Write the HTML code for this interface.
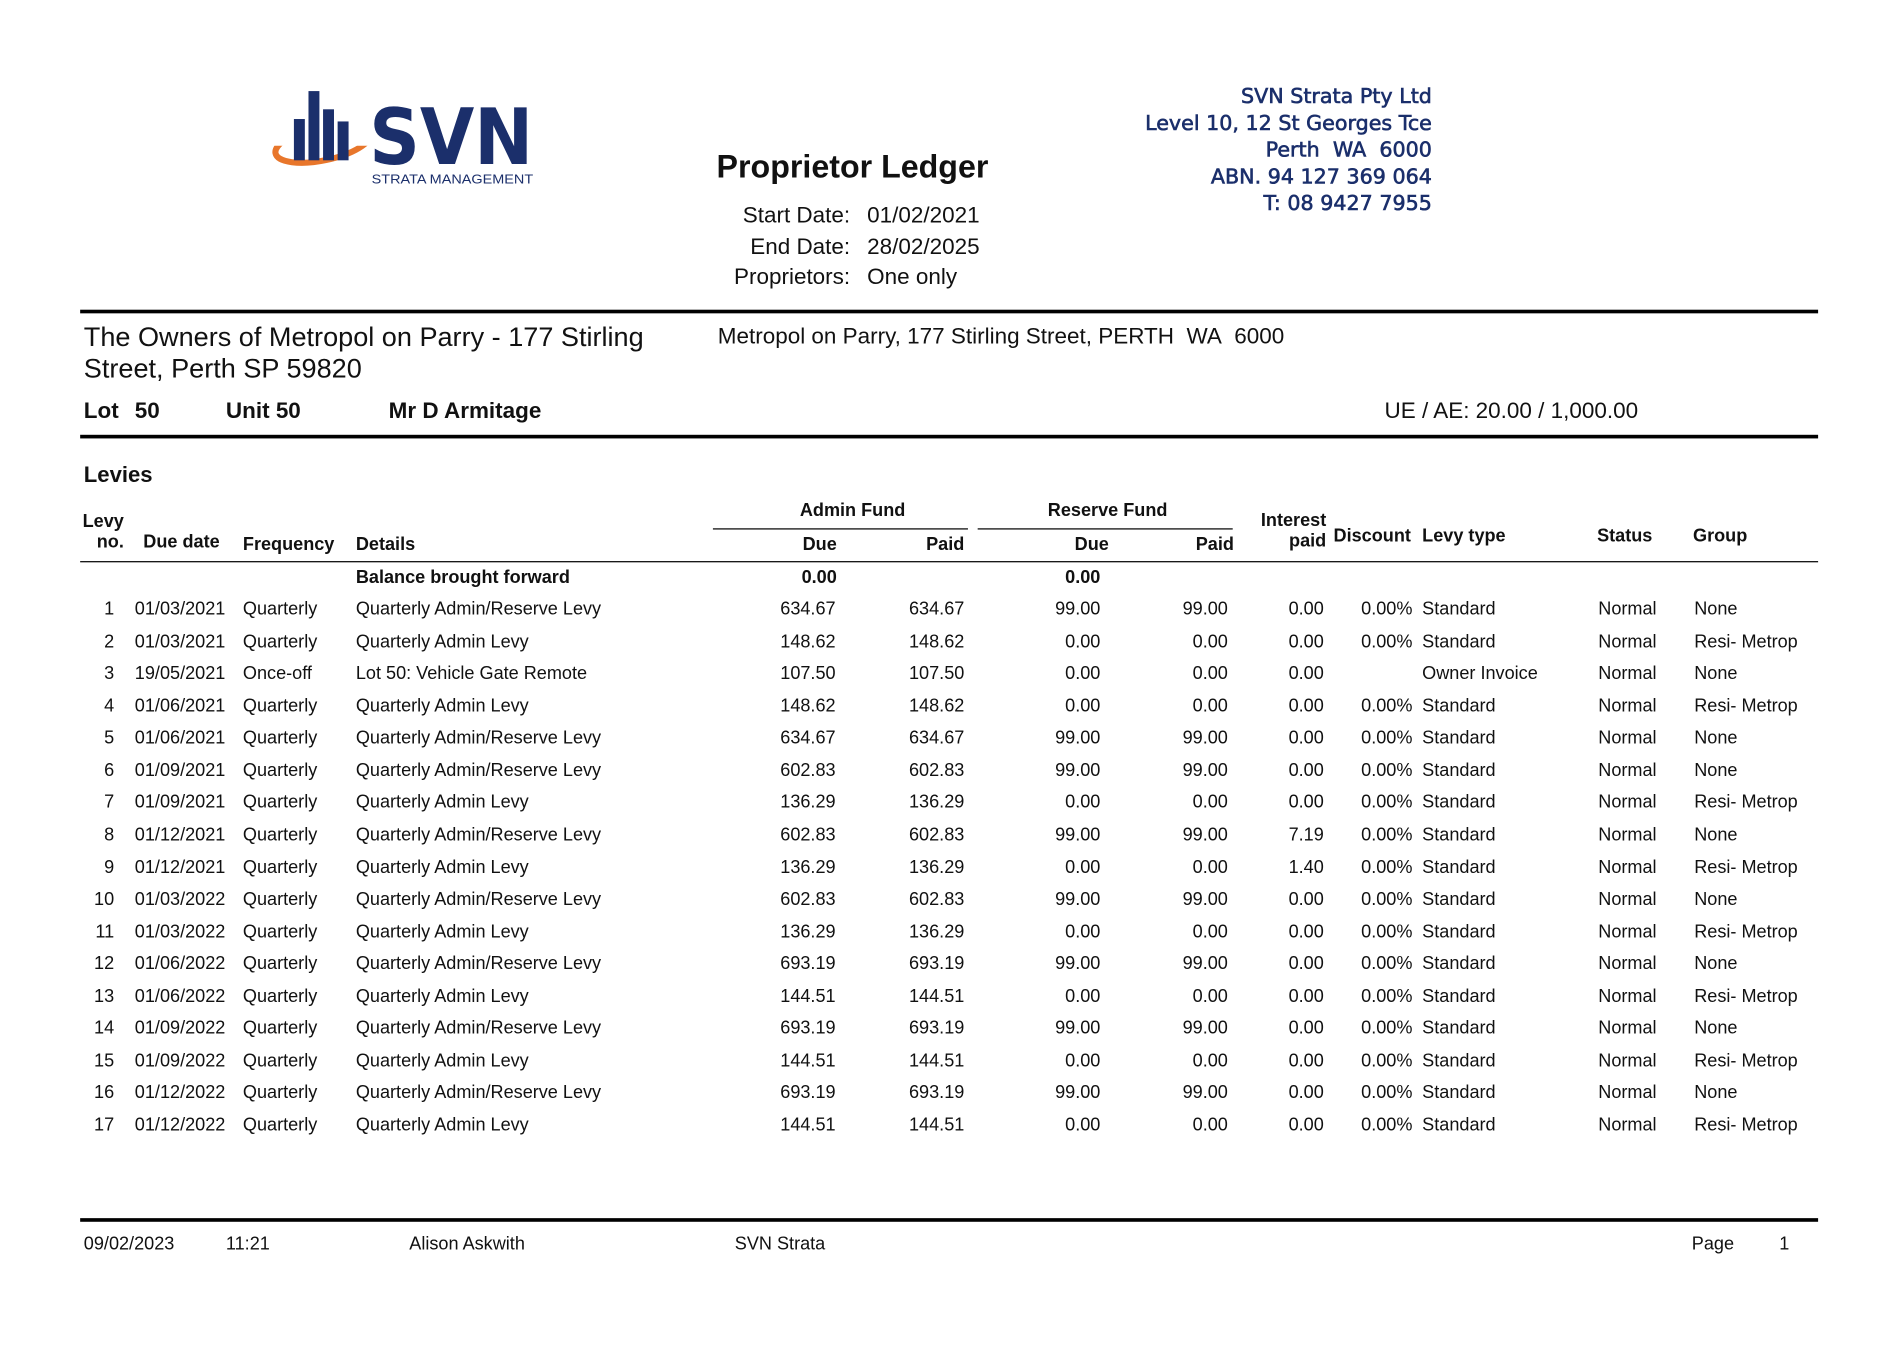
<!DOCTYPE html>
<html><head><meta charset="utf-8"><style>
html,body{margin:0;padding:0;background:#fff;}
body{width:1903px;height:1345px;overflow:hidden;position:relative;}
#pg{position:absolute;left:0;top:0;width:1553px;height:1098px;transform:scale(1.2145);transform-origin:0 0;font-family:"Liberation Sans",Arial,sans-serif;color:#111;}
.a{position:absolute;white-space:nowrap;}
.hl{position:absolute;background:#000;}
.row{position:absolute;left:0;width:1553px;height:18px;font-size:14.9px;line-height:18px;}
.row span{position:absolute;white-space:nowrap;}
.n{right:1459px}.d{left:111px}.f{left:200px}.t{left:293px}
.ad{right:865px}.ap{right:759px}.rd{right:647px}.rp{right:542px}
.ip{right:463px}.dc{right:390px}.lt{left:1171px}.st{left:1316px}.gr{left:1395px}
.b{font-weight:bold}
.h{font-size:14.9px}
.co{position:absolute;right:374px;font-family:"DejaVu Sans",sans-serif;font-weight:normal;-webkit-text-stroke:0.5px #1b2f6b;color:#1b2f6b;font-size:17px;white-space:nowrap;}
</style></head><body><div id="pg">

<svg class="a" style="left:222px;top:70px" width="230" height="90" viewBox="0 0 230 90">
<ellipse cx="44" cy="48" rx="40" ry="14" transform="rotate(-12 44 48)" stroke="#e8762b" stroke-width="5" fill="none"/>
<rect x="0" y="20" width="90" height="30" fill="#fff"/>
<rect x="20" y="28" width="9" height="34" fill="#1b2f6b"/>
<rect x="32" y="5" width="9" height="57" fill="#1b2f6b"/>
<rect x="44" y="20" width="9" height="42" fill="#1b2f6b"/>
<rect x="56" y="30" width="9" height="32" fill="#1b2f6b"/>
<text x="82" y="65" font-family="DejaVu Sans,sans-serif" font-weight="bold" font-size="64" fill="#1b2f6b" textLength="135" lengthAdjust="spacingAndGlyphs">SVN</text>
<text x="84" y="81" font-family="Liberation Sans,sans-serif" font-size="11" fill="#1b2f6b" textLength="133" lengthAdjust="spacingAndGlyphs">STRATA MANAGEMENT</text>
</svg>

<div class="a b" style="left:590px;top:122px;font-size:26.5px">Proprietor Ledger</div>
<div class="a" style="right:853px;top:164px;font-size:18.5px;line-height:25.5px;text-align:right">Start Date:<br>End Date:<br>Proprietors:</div>
<div class="a" style="left:714px;top:164px;font-size:18.5px;line-height:25.5px">01/02/2021<br>28/02/2025<br>One only</div>

<div class="co" style="top:70px">SVN Strata Pty Ltd</div>
<div class="co" style="top:92px">Level 10, 12 St Georges Tce</div>
<div class="co" style="top:114px">Perth&nbsp; WA&nbsp; 6000</div>
<div class="co" style="top:136px">ABN. 94 127 369 064</div>
<div class="co" style="top:158px">T: 08 9427 7955</div>

<div class="hl" style="left:66px;width:1431px;top:255px;height:3px"></div>
<div class="a" style="left:69px;top:265px;font-size:22.3px;line-height:26px">The Owners of Metropol on Parry - 177 Stirling<br>Street, Perth SP 59820</div>
<div class="a" style="left:591px;top:266px;font-size:18.5px">Metropol on Parry, 177 Stirling Street, PERTH&nbsp; WA&nbsp; 6000</div>
<div class="a b" style="left:69px;top:327px;font-size:18.5px">Lot</div>
<div class="a b" style="left:111px;top:327px;font-size:18.5px">50</div>
<div class="a b" style="left:186px;top:327px;font-size:18.5px">Unit 50</div>
<div class="a b" style="left:320px;top:327px;font-size:18.5px">Mr D Armitage</div>
<div class="a" style="left:1140px;top:327px;font-size:18.5px">UE / AE:&nbsp;20.00 / 1,000.00</div>
<div class="hl" style="left:66px;width:1431px;top:358px;height:3px"></div>

<div class="a b" style="left:69px;top:381px;font-size:18.2px">Levies</div>

<div class="a b h" style="left:68px;top:421px;line-height:18px">Levy</div>
<div class="a b h" style="right:1451px;top:439px">no.</div>
<div class="a b h" style="left:118px;top:439px">Due date</div>
<div class="a b h" style="left:200px;top:441px">Frequency</div>
<div class="a b h" style="left:293px;top:441px">Details</div>
<div class="a b h" style="left:597px;width:210px;text-align:center;top:413px">Admin Fund</div>
<div class="hl" style="left:587px;width:210px;top:435px;height:1.3px"></div>
<div class="a b h" style="left:807px;width:210px;text-align:center;top:413px">Reserve Fund</div>
<div class="hl" style="left:805px;width:210px;top:435px;height:1.3px"></div>
<div class="a b h" style="right:864px;top:441px">Due</div>
<div class="a b h" style="right:759px;top:441px">Paid</div>
<div class="a b h" style="right:640px;top:441px">Due</div>
<div class="a b h" style="right:537px;top:441px">Paid</div>
<div class="a b h" style="right:461px;top:421px;text-align:right;line-height:17px">Interest<br>paid</div>
<div class="a b h" style="left:1098px;top:434px">Discount</div>
<div class="a b h" style="left:1171px;top:434px">Levy type</div>
<div class="a b h" style="left:1315px;top:434px">Status</div>
<div class="a b h" style="left:1394px;top:434px">Group</div>
<div class="hl" style="left:66px;width:1431px;top:462px;height:1.3px"></div>

<div class="row b" style="top:467px"><span class="t">Balance brought forward</span><span class="ad" style="right:864px">0.00</span><span class="rd" style="right:647px">0.00</span></div>

<div class="row" style="top:493px"><span class="n">1</span><span class="d">01/03/2021</span><span class="f">Quarterly</span><span class="t">Quarterly Admin/Reserve Levy</span><span class="ad">634.67</span><span class="ap">634.67</span><span class="rd">99.00</span><span class="rp">99.00</span><span class="ip">0.00</span><span class="dc">0.00%</span><span class="lt">Standard</span><span class="st">Normal</span><span class="gr">None</span></div>
<div class="row" style="top:519.6px"><span class="n">2</span><span class="d">01/03/2021</span><span class="f">Quarterly</span><span class="t">Quarterly Admin Levy</span><span class="ad">148.62</span><span class="ap">148.62</span><span class="rd">0.00</span><span class="rp">0.00</span><span class="ip">0.00</span><span class="dc">0.00%</span><span class="lt">Standard</span><span class="st">Normal</span><span class="gr">Resi- Metrop</span></div>
<div class="row" style="top:546.1px"><span class="n">3</span><span class="d">19/05/2021</span><span class="f">Once-off</span><span class="t">Lot 50: Vehicle Gate Remote</span><span class="ad">107.50</span><span class="ap">107.50</span><span class="rd">0.00</span><span class="rp">0.00</span><span class="ip">0.00</span><span class="lt">Owner Invoice</span><span class="st">Normal</span><span class="gr">None</span></div>
<div class="row" style="top:572.7px"><span class="n">4</span><span class="d">01/06/2021</span><span class="f">Quarterly</span><span class="t">Quarterly Admin Levy</span><span class="ad">148.62</span><span class="ap">148.62</span><span class="rd">0.00</span><span class="rp">0.00</span><span class="ip">0.00</span><span class="dc">0.00%</span><span class="lt">Standard</span><span class="st">Normal</span><span class="gr">Resi- Metrop</span></div>
<div class="row" style="top:599.2px"><span class="n">5</span><span class="d">01/06/2021</span><span class="f">Quarterly</span><span class="t">Quarterly Admin/Reserve Levy</span><span class="ad">634.67</span><span class="ap">634.67</span><span class="rd">99.00</span><span class="rp">99.00</span><span class="ip">0.00</span><span class="dc">0.00%</span><span class="lt">Standard</span><span class="st">Normal</span><span class="gr">None</span></div>
<div class="row" style="top:625.8px"><span class="n">6</span><span class="d">01/09/2021</span><span class="f">Quarterly</span><span class="t">Quarterly Admin/Reserve Levy</span><span class="ad">602.83</span><span class="ap">602.83</span><span class="rd">99.00</span><span class="rp">99.00</span><span class="ip">0.00</span><span class="dc">0.00%</span><span class="lt">Standard</span><span class="st">Normal</span><span class="gr">None</span></div>
<div class="row" style="top:652.4px"><span class="n">7</span><span class="d">01/09/2021</span><span class="f">Quarterly</span><span class="t">Quarterly Admin Levy</span><span class="ad">136.29</span><span class="ap">136.29</span><span class="rd">0.00</span><span class="rp">0.00</span><span class="ip">0.00</span><span class="dc">0.00%</span><span class="lt">Standard</span><span class="st">Normal</span><span class="gr">Resi- Metrop</span></div>
<div class="row" style="top:678.9px"><span class="n">8</span><span class="d">01/12/2021</span><span class="f">Quarterly</span><span class="t">Quarterly Admin/Reserve Levy</span><span class="ad">602.83</span><span class="ap">602.83</span><span class="rd">99.00</span><span class="rp">99.00</span><span class="ip">7.19</span><span class="dc">0.00%</span><span class="lt">Standard</span><span class="st">Normal</span><span class="gr">None</span></div>
<div class="row" style="top:705.5px"><span class="n">9</span><span class="d">01/12/2021</span><span class="f">Quarterly</span><span class="t">Quarterly Admin Levy</span><span class="ad">136.29</span><span class="ap">136.29</span><span class="rd">0.00</span><span class="rp">0.00</span><span class="ip">1.40</span><span class="dc">0.00%</span><span class="lt">Standard</span><span class="st">Normal</span><span class="gr">Resi- Metrop</span></div>
<div class="row" style="top:732px"><span class="n">10</span><span class="d">01/03/2022</span><span class="f">Quarterly</span><span class="t">Quarterly Admin/Reserve Levy</span><span class="ad">602.83</span><span class="ap">602.83</span><span class="rd">99.00</span><span class="rp">99.00</span><span class="ip">0.00</span><span class="dc">0.00%</span><span class="lt">Standard</span><span class="st">Normal</span><span class="gr">None</span></div>
<div class="row" style="top:758.6px"><span class="n">11</span><span class="d">01/03/2022</span><span class="f">Quarterly</span><span class="t">Quarterly Admin Levy</span><span class="ad">136.29</span><span class="ap">136.29</span><span class="rd">0.00</span><span class="rp">0.00</span><span class="ip">0.00</span><span class="dc">0.00%</span><span class="lt">Standard</span><span class="st">Normal</span><span class="gr">Resi- Metrop</span></div>
<div class="row" style="top:785.2px"><span class="n">12</span><span class="d">01/06/2022</span><span class="f">Quarterly</span><span class="t">Quarterly Admin/Reserve Levy</span><span class="ad">693.19</span><span class="ap">693.19</span><span class="rd">99.00</span><span class="rp">99.00</span><span class="ip">0.00</span><span class="dc">0.00%</span><span class="lt">Standard</span><span class="st">Normal</span><span class="gr">None</span></div>
<div class="row" style="top:811.7px"><span class="n">13</span><span class="d">01/06/2022</span><span class="f">Quarterly</span><span class="t">Quarterly Admin Levy</span><span class="ad">144.51</span><span class="ap">144.51</span><span class="rd">0.00</span><span class="rp">0.00</span><span class="ip">0.00</span><span class="dc">0.00%</span><span class="lt">Standard</span><span class="st">Normal</span><span class="gr">Resi- Metrop</span></div>
<div class="row" style="top:838.3px"><span class="n">14</span><span class="d">01/09/2022</span><span class="f">Quarterly</span><span class="t">Quarterly Admin/Reserve Levy</span><span class="ad">693.19</span><span class="ap">693.19</span><span class="rd">99.00</span><span class="rp">99.00</span><span class="ip">0.00</span><span class="dc">0.00%</span><span class="lt">Standard</span><span class="st">Normal</span><span class="gr">None</span></div>
<div class="row" style="top:864.8px"><span class="n">15</span><span class="d">01/09/2022</span><span class="f">Quarterly</span><span class="t">Quarterly Admin Levy</span><span class="ad">144.51</span><span class="ap">144.51</span><span class="rd">0.00</span><span class="rp">0.00</span><span class="ip">0.00</span><span class="dc">0.00%</span><span class="lt">Standard</span><span class="st">Normal</span><span class="gr">Resi- Metrop</span></div>
<div class="row" style="top:891.4px"><span class="n">16</span><span class="d">01/12/2022</span><span class="f">Quarterly</span><span class="t">Quarterly Admin/Reserve Levy</span><span class="ad">693.19</span><span class="ap">693.19</span><span class="rd">99.00</span><span class="rp">99.00</span><span class="ip">0.00</span><span class="dc">0.00%</span><span class="lt">Standard</span><span class="st">Normal</span><span class="gr">None</span></div>
<div class="row" style="top:918px"><span class="n">17</span><span class="d">01/12/2022</span><span class="f">Quarterly</span><span class="t">Quarterly Admin Levy</span><span class="ad">144.51</span><span class="ap">144.51</span><span class="rd">0.00</span><span class="rp">0.00</span><span class="ip">0.00</span><span class="dc">0.00%</span><span class="lt">Standard</span><span class="st">Normal</span><span class="gr">Resi- Metrop</span></div>

<div class="hl" style="left:66px;width:1431px;top:1003px;height:3px"></div>
<div class="row" style="top:1016px"><span style="left:69px">09/02/2023</span><span style="left:186px">11:21</span><span style="left:337px">Alison Askwith</span><span style="left:605px">SVN Strata</span><span style="left:1393px">Page</span><span style="left:1465px">1</span></div>

</div></body></html>
